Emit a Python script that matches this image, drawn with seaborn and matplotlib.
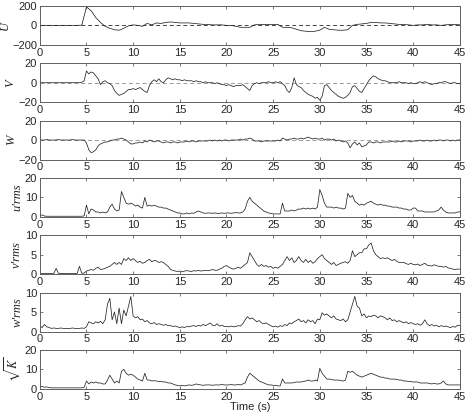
import numpy as np
import pandas as pd
import matplotlib
matplotlib.use("Agg")
import matplotlib.pyplot as plt
import seaborn as sns

# time axes (s)
t_coarse = np.arange(0, 45.01, 0.5)
t_fine = np.arange(0, 45.01, 0.25)

# mean velocity components
U = [0, 0, 0, 0, 0, 0, 0, 0, 0, 2,
     190, 150, 80, 30, -10, -30, -45, -50, -30, -5,
     5, 0, -10, 20, 5, 25, 20, 30, 35, 30,
     25, 25, 25, 20, 15, 10, 10, 5, 5, 5,
     0, 0, -10, -20, -20, -20, 5, 10, 10, 10,
     10, 10, -20, -20, -25, -40, -55, -60, -65, -60,
     -50, -20, -40, -45, -50, -50, -45, 0, 10, 15,
     20, 30, 30, 25, 25, 20, 15, 10, 10, 5,
     0, 5, 5, 10, 5, 5, 0, 5, 10, 10,
     5]

V = [0, 0, 0, 0, 0, 0, 0, 0, 0, 0, 0, 0, 0, 0, 0, 0, 0, 0, 0.5, 2,
     12, 9, 11, 10, 7, 4, -2, 1, 2, 0, -1, -3, -8, -11, -13, -12, -11, -9, -7, -7,
     -6, -7, -6, -5, -7, -9, -10, -3, 1, 3, 1, 4, 1, 0, 3, 5, 4, 3, 4, 3,
     3, 2, 3, 2, 2, 2, 1, 2, 1, 1, 0, 1, 0, 0, 0, -1, 0, -1, -2, -2,
     -3, -2, -3, -4, -3, -3, -3, -2, -4, -6, -8, -3, -1, 0, -1, 0, 0, 0, 1, 0,
     0, 1, 0, 1, -1, -3, -8, -10, -5, 5, -2, -4, -5, -8, -10, -12, -13, -14, -16, -15,
     -18, -14, -3, -2, -5, -8, -10, -12, -14, -15, -16, -15, -13, -10, -4, -3, -6, -9, -10, -6,
     -2, 2, 5, 7, 6, 4, 3, 2, 2, 1, 0, 0, 0, 0, 1, 0, 0, 0, -1, 0,
     -1, -1, 0, 1, 0, 1, 0, -1, -2, -1, -1, 0, 0, 1, 1, 0, -1, 0, 0, -1,
     -1]

W = [0, 0, 0, 0.5, 0, 0, 0, 0, 0.5, 0, 0, 0, 0, 0, 0.5, 0, 0, 0, 0, 0,
     -3, -10, -13, -12, -10, -6, -4, -3, -2, -2, -1, 0, 0, 1, 1, 2, 1, 0, -2, -4,
     -4, -3, -3, -2, -3, -1, -2, 0, -1, -2, -1, -1, -2, -3, -2, -2, -3, -2, -2, -3,
     -2, -2, -2, -1, -2, -1, -1, -2, -1, -1, -1, -1, -1, 0, -1, 0, -1, 0, -1, 0,
     0, -1, 0, 0, 0, 0, 1, 0, 1, 1, 2, 1, -1, -1, -1, -2, -1, -1, -1, -1,
     -1, -1, 0, -1, 2, 1, 0, 1, 1, 2, 1, 1, 2, 1, 2, 3, 2, 1, 2, 1,
     1, 2, 0, 1, 1, 0, 1, -1, 0, -1, -2, -1, -3, -8, -4, -2, -5, -3, -7, -6,
     -5, -2, -2, -3, -2, -2, -3, -2, -2, -2, -2, -1, -2, -2, -1, -2, -1, -1, -1, -2,
     -1, -1, -1, 0, -1, -1, 0, -1, -1, 0, -1, 0, 0, -1, 0, 0, -1, 0, -1, 0,
     0]

# turbulence intensities
u_rms = [0.5, 1, 0.4, 0.3, 0.3, 0.3, 0.3, 0.3, 0.3, 0.3, 0.3, 0.3, 0.3, 0.3, 0.3, 0.3, 0.3, 0.3, 0.3, 0.5,
         6, 1.5, 4, 3.5, 2.5, 2.5, 2, 2.5, 2, 2.5, 5, 6.5, 4, 3, 3.5, 13, 10, 7, 6.5, 7,
         6.5, 5.5, 6, 5, 4.5, 10, 5.5, 6, 5.5, 6, 5.5, 5, 5, 4.5, 4.5, 4, 3.5, 3, 2.5, 2,
         2, 1.5, 1.5, 2, 1.5, 2, 1.8, 2.5, 3, 2.5, 2, 1.8, 2, 2, 1.8, 2, 1.8, 1.8, 2, 1.8,
         2, 2, 1.8, 2, 2.2, 2, 2, 2.5, 4, 8, 10, 8, 7, 6, 5, 4, 3, 2.5, 2, 1.8,
         1.5, 1.5, 1.5, 1.5, 7, 3, 3, 3, 3.5, 3, 3.5, 4, 4, 4.5, 4, 4.5, 4, 4.5, 4, 5,
         14, 11, 7, 5, 5, 5, 4.5, 5, 4.5, 4.5, 4, 4.5, 12, 10, 11, 8, 7, 6, 6.5, 6,
         7, 7.5, 8, 7, 6.5, 6, 6.5, 6, 6, 5.5, 5.5, 5, 5, 5, 4.5, 4.5, 4, 4, 3.5, 3.5,
         4.5, 4.5, 3, 3, 3, 2.5, 2.5, 2.5, 2.5, 2.5, 3, 3.5, 5, 3.5, 2.5, 2, 2, 2, 2, 2.5,
         2.5]

v_rms = [0.2, 0.2, 0.2, 0.2, 0.2, 0.2, 0.2, 1.5, 0.2, 0.2, 0.2, 0.2, 0.2, 0.2, 0.2, 0.2, 0.2, 2, 0.2, 0.3,
         0.8, 1, 1.2, 1, 1.5, 1.8, 1.2, 1.3, 1.5, 1.8, 2, 2.5, 3, 2.5, 3, 2.5, 4, 3.5, 4.2, 3.5,
         4, 3.5, 3, 3.3, 2.8, 3, 3.5, 3.8, 3.2, 3.5, 3.4, 3, 3.2, 3, 2.5, 2, 1.2, 1, 0.8, 0.7,
         0.8, 0.6, 0.8, 0.9, 0.8, 0.7, 0.9, 0.8, 1, 0.8, 0.9, 1, 0.9, 1, 1.2, 1, 1, 1.3, 1.5, 2,
         2.2, 1.8, 1.5, 1.3, 1.5, 1.8, 1.5, 2, 2.5, 3, 5.5, 4.5, 3.5, 2.5, 2, 2.5, 2, 2.2, 1.8, 2,
         1.5, 1.8, 1.5, 2, 2.5, 3.5, 4.5, 3.5, 4.2, 3, 3.5, 4.5, 3.5, 3, 3.8, 3, 3.5, 2.8, 3.2, 4,
         4.5, 5, 4, 3.5, 3, 2.5, 3, 2.2, 2.5, 2.8, 3, 3.2, 2.8, 3.5, 6, 4.5, 5, 5.5, 5.5, 6.5,
         6.5, 7.5, 8, 6, 5, 4.5, 4, 4.2, 4, 4.2, 3.8, 3.5, 3.8, 3.3, 3, 3, 3, 2.7, 2.5, 2.8,
         2.5, 2.4, 2.6, 2.2, 2.5, 2.8, 2.3, 2.2, 2.1, 2.4, 2.2, 2, 2, 1.8, 2, 1.6, 1.5, 1.3, 1.2, 1.3,
         1.3]

w_rms = [1.5, 1, 1.8, 1.2, 1, 0.8, 0.9, 0.8, 0.8, 0.9, 0.8, 0.8, 0.8, 0.8, 0.9, 0.8, 0.8, 0.8, 0.9, 0.8,
         1.2, 2.5, 2.2, 2, 2.5, 2.2, 2.6, 2, 3, 7, 8.5, 3, 5, 2, 6, 2, 5.5, 4, 6.5, 9,
         4, 3.5, 3.8, 3, 3.2, 2.5, 2.8, 2.2, 2, 2.3, 1.8, 2, 1.8, 1.6, 1.8, 1.5, 1.5, 1.3, 1.4, 1.2,
         1, 1.2, 1, 1.3, 1.2, 1.4, 1.5, 1.3, 1.6, 1.4, 1.8, 1.5, 1.8, 2.2, 1.6, 1.5, 2, 1.4, 1.6, 1.3,
         1.3, 1.2, 1.4, 1.2, 1.3, 1.5, 1.4, 2, 3, 3.8, 3.2, 3.5, 3, 2.5, 2.8, 2.2, 2, 2.2, 1.8, 1.5,
         1.2, 1.4, 1.1, 1.5, 1.3, 1.8, 1.5, 2.2, 2, 2.5, 2.8, 3.2, 2.5, 2.8, 2.2, 3, 2.5, 2.8, 2, 3.2,
         3, 4.8, 4.2, 4.5, 4, 3.5, 4, 3.2, 3, 2.8, 3.2, 2.5, 3, 5, 7, 9, 6.5, 6, 4, 4.5,
         3.5, 4, 3.8, 4.2, 4, 3.5, 4, 3.8, 3.5, 3, 3.5, 2.8, 3, 2.5, 2.8, 2.5, 2.2, 2.5, 2, 2.3,
         2, 1.8, 2, 1.6, 2, 3, 2, 1.5, 1.8, 1.4, 1.6, 1.2, 1.5, 1.3, 1.4, 1.2, 1, 1.3, 1.1, 1.6,
         1.5]

sqrt_k = [1, 1.2, 0.8, 1, 0.6, 0.5, 0.5, 0.5, 0.5, 0.5, 0.5, 0.5, 0.5, 0.5, 0.5, 0.5, 0.5, 0.5, 0.5, 0.8,
          4, 2.5, 3.5, 3, 3.5, 3, 3, 2.5, 2.5, 4.5, 7, 5, 3, 4, 3, 9, 10, 8, 7, 7.5,
          7, 6, 5, 4.5, 4, 8, 4.5, 4.5, 4, 4.2, 4, 3.8, 3.8, 3.5, 3.5, 3, 3, 2.5, 2, 1.8,
          1.5, 1.8, 1.5, 1.8, 2, 1.8, 2, 2.5, 2.2, 2, 1.8, 2, 2, 2, 1.8, 2, 2, 2, 2.2, 2,
          2, 2, 2.2, 2, 2, 2.2, 2, 2.5, 3, 6, 8, 7, 6, 5, 4, 3.5, 3, 2.5, 2, 2,
          1.8, 1.8, 1.5, 1.5, 5, 3, 3, 3, 3, 3.2, 3.5, 3.5, 3.5, 3.8, 4, 4.5, 4, 4, 4.5, 4,
          10.5, 8, 6.5, 5, 5, 4.8, 4.5, 4.5, 4.5, 4.2, 4, 4.5, 9, 8.5, 9, 8, 7, 6.5, 6, 6.5,
          7, 7.5, 8, 7.5, 7, 6.5, 6, 6, 5.5, 5.5, 5, 5, 5, 4.8, 4.5, 4.5, 4, 4, 3.8, 3.8,
          3.5, 3.5, 3.5, 3, 3, 3, 3, 2.8, 2.5, 2.8, 2.5, 2.5, 3, 4, 2.5, 2, 2, 2, 2, 2,
          2]

# label, time axis, values, y ticks, zero line colour (None = no line)
panels = [
    ("U", t_coarse, U, [-200, 0, 200], '#444444'),
    ("V", t_fine, V, [-20, 0, 20], '#999999'),
    ("W", t_fine, W, [-20, 0, 20], '#999999'),
    ("u'rms", t_fine, u_rms, [0, 10, 20], None),
    ("v'rms", t_fine, v_rms, [0, 5, 10], None),
    ("w'rms", t_fine, w_rms, [0, 5, 10], None),
    (r"$\sqrt{K}$", t_fine, sqrt_k, [0, 10, 20], None),
]

sns.set_style("ticks")
plt.rcParams['font.family'] = ['Liberation Sans', 'DejaVu Sans']
plt.rcParams['mathtext.fontset'] = 'stix'

fig, axes = plt.subplots(7, 1, figsize=(4.74, 4.19), dpi=100)
fig.subplots_adjust(left=0.084, right=0.970, top=0.986, bottom=0.072, hspace=0.47)

frame = '#606060'
for ax, (label, t, y, yticks, zero_col) in zip(axes, panels):
    df = pd.DataFrame({'Time': t, 'value': y})
    if zero_col:
        ax.axhline(0, ls='--', color=zero_col, lw=0.7, dashes=(4, 3))
    sns.lineplot(data=df, x='Time', y='value', ax=ax, color='#252525', lw=0.55)
    ax.set_xlim(0, 45)
    ax.set_ylim(yticks[0], yticks[-1])
    ax.set_xticks(range(0, 46, 5))
    ax.set_yticks(yticks)
    ax.tick_params(direction='in', length=2.5, width=0.6, color=frame, labelsize=8,
                   pad=2, top=True, right=True)
    for s in ax.spines.values():
        s.set_color(frame)
        s.set_linewidth(0.7)
    ax.set_xlabel('')
    ax.set_ylabel(label, family='Liberation Serif', style='italic', fontsize=9, labelpad=1)

axes[-1].set_xlabel('Time (s)', fontsize=8, labelpad=0)

plt.savefig('out.png', dpi=100)
